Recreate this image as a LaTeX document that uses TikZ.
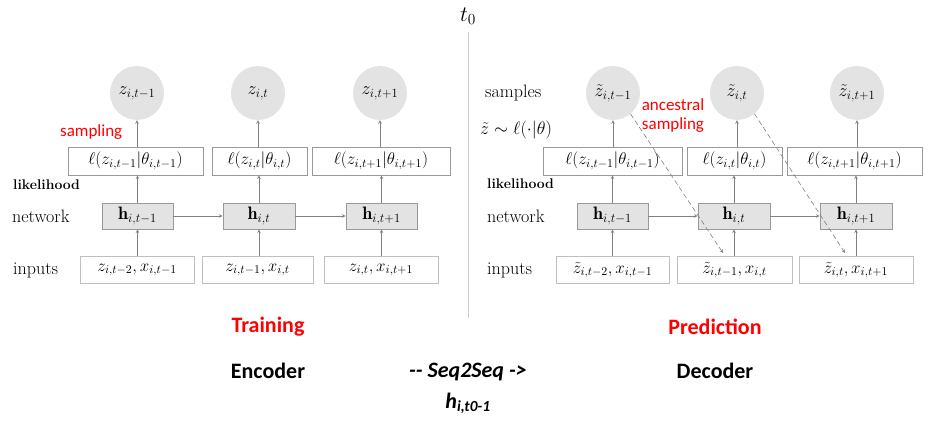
\RequirePackage{fix-cm}
\documentclass[tikz,border=0pt]{standalone}
\usepackage{fontspec}
\usepackage{amsmath,amssymb}
\newfontfamily\carlf{Carlito}
\begin{document}
\begin{tikzpicture}[x=1pt,y=-1pt,
  lk/.style={draw=gray!80,line width=0.8pt,fill=white,inner sep=0pt,minimum height=28pt,font=\fontsize{17}{19}\selectfont},
  hb/.style={draw=gray!80,line width=0.8pt,fill=gray!22,inner sep=0pt,minimum height=26pt,font=\fontsize{18}{20}\selectfont},
  inb/.style={draw=gray!50,line width=0.8pt,fill=white,inner sep=0pt,minimum height=27pt,font=\fontsize{17}{19}\selectfont},
  zc/.style={circle,fill=gray!22,minimum size=54pt,inner sep=0pt,font=\fontsize{18}{20}\selectfont},
  ar/.style={->,gray,line width=0.6pt,>=stealth},
  dar/.style={->,gray,line width=0.6pt,dashed,dash pattern=on 5pt off 3pt,>=stealth},
  lab/.style={font=\fontsize{18}{20}\selectfont,inner sep=0pt},
  blab/.style={font=\fontsize{14}{16}\selectfont\bfseries,inner sep=0pt},
  redl/.style={text=red,font=\carlf\fontsize{17}{19}\selectfont,inner sep=0pt},
  big/.style={font=\carlf\bfseries\fontsize{22}{24}\selectfont,inner sep=0pt},
  bigi/.style={font=\carlf\bfseries\itshape\fontsize{22}{24}\selectfont,inner sep=0pt}]
\useasboundingbox (0,0) rectangle (937,431);
\draw[gray!40,line width=0.8pt] (468,32) coordinate (vt) -- (468,318) coordinate (vb);
\node[font=\carlf\itshape\fontsize{22}{24}\selectfont] (t0) at (468,16) {$t_0$};
% left
\node[zc] (za) at (137,93) {$z_{i,t-1}$};
\node[zc] (zb) at (258,93) {$z_{i,t}$};
\node[zc] (zcc) at (380,93) {$z_{i,t+1}$};
\node[lk,minimum width=135pt] (la) at (135.5,161) {$\ell(z_{i,t-1}|\theta_{i,t-1})$};
\node[lk,minimum width=95pt] (lb) at (259.5,161) {$\ell(z_{i,t}|\theta_{i,t})$};
\node[lk,minimum width=138pt] (lc) at (381,161) {$\ell(z_{i,t+1}|\theta_{i,t+1})$};
\node[hb,minimum width=71pt] (ha) at (137.5,216) {$\mathbf{h}_{i,t-1}$};
\node[hb,minimum width=72pt] (hbb) at (259,216) {$\mathbf{h}_{i,t}$};
\node[hb,minimum width=71pt] (hc) at (381.5,216) {$\mathbf{h}_{i,t+1}$};
\node[inb,minimum width=114pt] (ia) at (137,270) {$z_{i,t-2},x_{i,t-1}$};
\node[inb,minimum width=111pt] (ib) at (257.5,270) {$z_{i,t-1},x_{i,t}$};
\node[inb,minimum width=114pt] (ic) at (381,270) {$z_{i,t},x_{i,t+1}$};
\foreach \i/\l/\h/\z in {ia/la/ha/za,ib/lb/hbb/zb,ic/lc/hc/zcc}{
  \draw[ar] (\i.north -| \h) -- (\h.south);
  \draw[ar] (\h.north) -- (\h.north |- \l.south);
  \draw[ar] (\l.north -| \z) -- (\z.south);}
\draw[ar] (ha) -- (hbb); \draw[ar] (hbb) -- (hc);
\node[redl,anchor=west] (sp) at (60,132) {sampling};
\node[blab,anchor=west] (lkl) at (13,185) {likelihood};
\node[lab,anchor=west] (nw) at (12,216) {network};
\node[lab,anchor=west] (inl) at (13,270) {inputs};
% right
\node[zc] (ya) at (613,93) {$\tilde z_{i,t-1}$};
\node[zc] (yb) at (737,93) {$\tilde z_{i,t}$};
\node[zc] (yc) at (857,93) {$\tilde z_{i,t+1}$};
\node[lk,minimum width=139pt] (ma) at (612.5,161) {$\ell(z_{i,t-1}|\theta_{i,t-1})$};
\node[lk,minimum width=95pt] (mb) at (734.5,161) {$\ell(z_{i,t}|\theta_{i,t})$};
\node[lk,minimum width=135pt] (mc) at (854.5,161) {$\ell(z_{i,t+1}|\theta_{i,t+1})$};
\node[hb,minimum width=71pt] (ga) at (612.5,216) {$\mathbf{h}_{i,t-1}$};
\node[hb,minimum width=72pt] (gb) at (734,216) {$\mathbf{h}_{i,t}$};
\node[hb,minimum width=72pt] (gc) at (856,216) {$\mathbf{h}_{i,t+1}$};
\node[inb,minimum width=113pt] (ja) at (612.5,270) {$\tilde z_{i,t-2},x_{i,t-1}$};
\node[inb,minimum width=115pt] (jb) at (734.5,270) {$\tilde z_{i,t-1},x_{i,t}$};
\node[inb,minimum width=114pt] (jc) at (856,270) {$\tilde z_{i,t},x_{i,t+1}$};
\foreach \i/\l/\h/\z in {ja/ma/ga/ya,jb/mb/gb/yb,jc/mc/gc/yc}{
  \draw[ar] (\i.north -| \h) -- (\h.south);
  \draw[ar] (\h.north) -- (\h.north |- \l.south);
  \draw[ar] (\l.north -| \z) -- (\z.south);}
\draw[ar] (ga) -- (gb); \draw[ar] (gb) -- (gc);
\coordinate (da) at (723,253); \coordinate (db) at (845,253);
\draw[dar] (ya.-50) -- (da);
\draw[dar] (yb.-50) -- (db);
\node[lab,anchor=west] (smp) at (485,93) {samples};
\node[lab,anchor=west] (zl) at (480,130) {$\tilde z\sim\ell(\cdot|\theta)$};
\node[redl,align=center] (anc) at (673,116) {ancestral\\sampling};
\node[blab,anchor=west] (lkr) at (487,184) {likelihood};
\node[lab,anchor=west] (nwr) at (487,216) {network};
\node[lab,anchor=west] (inr) at (487,270) {inputs};
% bottom
\node[big,text=red] (tr) at (268,327) {Training};
\node[big] (en) at (268,371) {Encoder};
\node[big,text=red] (pr) at (715,327) {Prediction};
\node[big] (de) at (715,371) {Decoder};
\node[bigi] (s2s) at (468,372) {{-}{-} Seq2Seq {-}>};
\node[bigi] (hh) at (468,403) {h\textsubscript{i,t0-1}};
\end{tikzpicture}
\end{document}
